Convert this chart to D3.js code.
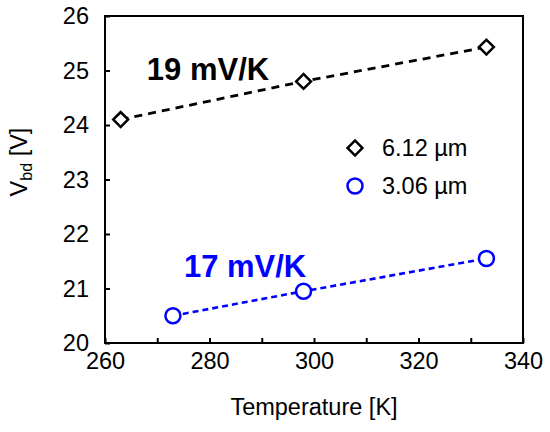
<!DOCTYPE html>
<html lang="en">
<head>
  <meta charset="UTF-8">
  <title>Vbd vs temperature</title>
  <script src="https://d3js.org/d3.v7.min.js"></script>
  <style>
    body { margin: 0; background: #fff; }
    text { font-family: "Liberation Sans", Arial, sans-serif; }
  </style>
</head>
<body>
<script>
  // data
  const thickTemps = [263, 298, 333];
  const thickVbd = [24.1, 24.8, 25.43];
  const thinTemps = [273, 298, 333];
  const thinVbd = [20.5, 20.95, 21.55];

  const xTicks = [260, 270, 280, 290, 300, 310, 320, 330, 340];
  const yTicks = [20, 21, 22, 23, 24, 25, 26];

  const legendLabels = ['6.12 µm', '3.06 µm'];
  const slopeLabels = ['19 mV/K', '17 mV/K'];

  const blue = '#0000ff';
  const fs = 23.5;

  const W = 550, H = 432;
  const margin = {left: 105, right: 27, top: 16, bottom: 89};

  const svg = d3.select('body').append('svg')
    .attr('width', W)
    .attr('height', H);

  const x = d3.scaleLinear().domain([260, 340]).range([margin.left, W - margin.right]);
  const y = d3.scaleLinear().domain([20, 26]).range([H - margin.bottom, margin.top]);

  //Axes with inward ticks
  const xAxis = svg.append('g')
    .attr('transform', `translate(0,${H - margin.bottom})`)
    .call(d3.axisBottom(x)
      .tickValues(xTicks)
      .tickSize(-5)
      .tickSizeOuter(0)
      .tickPadding(9)
      .tickFormat(d => d % 20 === 0 ? d : ''));

  const yAxis = svg.append('g')
    .attr('transform', `translate(${margin.left},0)`)
    .call(d3.axisLeft(y)
      .tickValues(yTicks)
      .tickSize(-5)
      .tickSizeOuter(0)
      .tickPadding(16)
      .tickFormat(d3.format('d')));

  [xAxis, yAxis].forEach(a => {
    a.selectAll('line').attr('stroke', '#000').attr('stroke-width', 2);
    a.selectAll('text').attr('font-size', fs).attr('fill', '#000')
      .style('font-family', '"Liberation Sans", Arial, sans-serif');
    a.select('.domain').remove();
  });
  yAxis.selectAll('text').attr('dy', '0.33em');

  //Plot frame
  svg.append('rect')
    .attr('x', x(260))
    .attr('y', y(26))
    .attr('width', x(340) - x(260))
    .attr('height', y(20) - y(26))
    .attr('fill', 'none')
    .attr('stroke', '#000')
    .attr('stroke-width', 2);

  //Axis titles
  svg.append('text')
    .attr('x', (x(260) + x(340)) / 2)
    .attr('y', 415)
    .attr('text-anchor', 'middle')
    .attr('font-size', fs)
    .text('Temperature [K]');

  const yTitle = svg.append('text')
    .attr('transform', 'translate(27,162) rotate(-90)')
    .attr('text-anchor', 'middle')
    .attr('font-size', fs);
  yTitle.append('tspan').text('V');
  yTitle.append('tspan').attr('font-size', 16).attr('dy', 5).text('bd');
  yTitle.append('tspan').attr('dy', -5).text(' [V]');

  //Lines
  const line = d3.line().x(d => x(d[0])).y(d => y(d[1]));
  const thick = d3.zip(thickTemps, thickVbd);
  const thin = d3.zip(thinTemps, thinVbd);

  svg.append('path')
    .datum(thick)
    .attr('d', line)
    .attr('fill', 'none')
    .attr('stroke', '#000')
    .attr('stroke-width', 2.8)
    .attr('stroke-dasharray', '8,6');

  svg.append('path')
    .datum(thin)
    .attr('d', line)
    .attr('fill', 'none')
    .attr('stroke', blue)
    .attr('stroke-width', 2.6)
    .attr('stroke-dasharray', '6,4');

  //Markers
  const diamond = d3.symbol().type(d3.symbolSquare).size(110);

  svg.selectAll('.diamond')
    .data(thick)
    .join('path')
    .attr('class', 'diamond')
    .attr('d', diamond)
    .attr('transform', d => `translate(${x(d[0])},${y(d[1])}) rotate(45)`)
    .attr('fill', '#fff')
    .attr('stroke', '#000')
    .attr('stroke-width', 2.5);

  svg.selectAll('.circ')
    .data(thin)
    .join('circle')
    .attr('class', 'circ')
    .attr('cx', d => x(d[0]))
    .attr('cy', d => y(d[1]))
    .attr('r', 7.5)
    .attr('fill', '#fff')
    .attr('stroke', blue)
    .attr('stroke-width', 2.5);

  //Slope annotations
  svg.append('text')
    .attr('x', x(268))
    .attr('y', y(24.83))
    .attr('font-size', 31)
    .attr('font-weight', 'bold')
    .attr('fill', '#000')
    .text(slopeLabels[0]);

  svg.append('text')
    .attr('x', x(275.1))
    .attr('y', y(21.22))
    .attr('font-size', 31)
    .attr('font-weight', 'bold')
    .attr('fill', blue)
    .text(slopeLabels[1]);

  //Legend
  const legend = svg.append('g').attr('transform', 'translate(355,148)');

  legend.append('path')
    .attr('d', diamond)
    .attr('transform', 'rotate(45)')
    .attr('fill', '#fff')
    .attr('stroke', '#000')
    .attr('stroke-width', 2.5);

  legend.append('circle')
    .attr('cx', 0)
    .attr('cy', 38)
    .attr('r', 7.5)
    .attr('fill', '#fff')
    .attr('stroke', blue)
    .attr('stroke-width', 2.5);

  legend.selectAll('.lab')
    .data(legendLabels)
    .join('text')
    .attr('class', 'lab')
    .attr('x', 27)
    .attr('y', (d, i) => i * 38)
    .attr('dy', '0.33em')
    .attr('font-size', fs)
    .text(d => d);
</script>
</body>
</html>
